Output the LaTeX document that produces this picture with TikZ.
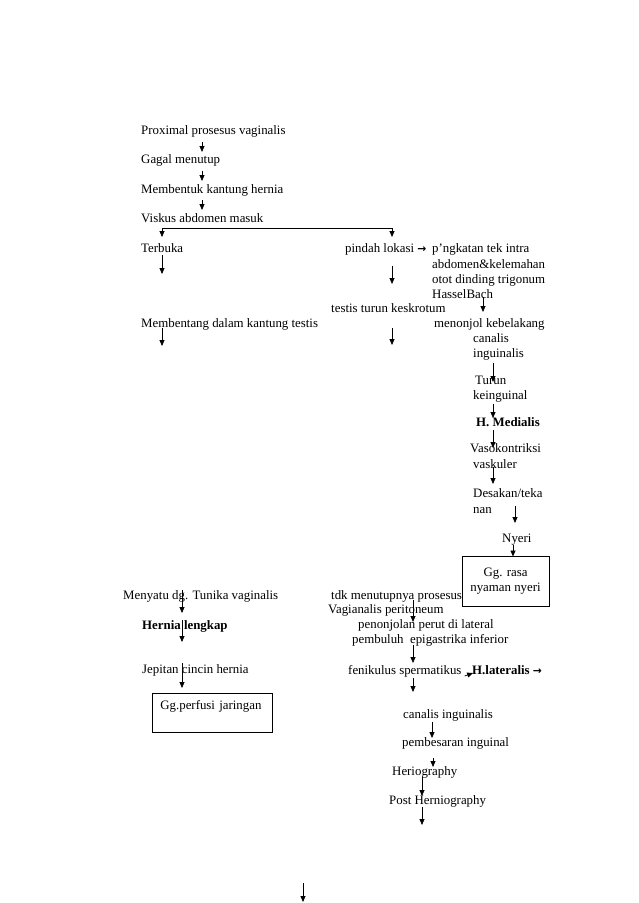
\documentclass[tikz,border=0pt]{standalone}
\usepackage{fontspec}
\setmainfont{Liberation Serif}
\newfontfamily\arrowfont{DejaVu Sans}
\usetikzlibrary{arrows.meta,calc}
\pgfdeclarelayer{bg}
\pgfsetlayers{bg,main}
\tikzset{
        txt/.style={anchor=base west, inner sep=0pt, font=\fontsize{12}{14}\selectfont},
        arr/.style={-{Triangle[length=5.5pt,width=4.6pt]}, line width=0.7pt},
        box/.style={draw, line width=0.7pt}
}
\newcommand{\ra}{{\arrowfont\bfseries\fontsize{10}{12}\selectfont →}}
\begin{document}
\begin{tikzpicture}[x=0.933pt, y=-0.933pt]
        \useasboundingbox (0,0) rectangle (638,903);
        \coordinate (cA) at (202,0);
        \coordinate (cL) at (162,0);
        \coordinate (cM) at (392,0);
        \coordinate (cH) at (483,0);
        \coordinate (cR) at (493,0);
        \coordinate (cD) at (515,0);
        \coordinate (cN) at (513,0);
        \coordinate (cB) at (182,0);
        \coordinate (cT) at (413,0);
        \coordinate (cC) at (432,0);
        \coordinate (cP) at (422,0);
        \coordinate (tail) at (303,883);
        \coordinate (tip) at (303,902);
        \node (prox) [txt] at (141, 134) {Proximal prosesus vaginalis};
        \node (gagal) [txt] at (141, 163) {Gagal menutup};
        \node (kantung) [txt] at (141, 193) {Membentuk kantung hernia};
        \node (viskus) [txt] at (141, 222) {Viskus abdomen masuk};
        \node (terbuka) [txt] at (141, 252) {Terbuka};
        \node (membentang) [txt] at (141, 327) {Membentang dalam kantung testis};
        \node (pindah) [txt] at (345, 252) {pindah lokasi \ra};
        \node (pk1) [txt] at (432, 252) {p’ngkatan tek intra};
        \node (pk2) [txt] at (432, 268) {abdomen\&kelemahan};
        \node (pk3) [txt] at (432, 283) {otot dinding trigonum};
        \node (pk4) [txt] at (432, 298) {HasselBach};
        \node (testis) [txt] at (331, 312) {testis turun keskrotum};
        \node (menonjol) [txt] at (434, 327) {menonjol kebelakang};
        \node (canalis) [txt] at (473, 342) {canalis};
        \node (inguinalis) [txt] at (473, 357) {inguinalis};
        \node (turun) [txt] at (475, 384) {Turun};
        \node (keinguinal) [txt] at (473, 399) {keinguinal};
        \node (medialis) [txt, font=\fontsize{12}{14}\selectfont\bfseries] at (476, 426) {H. Medialis};
        \node (vaso) [txt] at (470, 452) {Vasokontriksi};
        \node (vaskuler) [txt] at (473, 468) {vaskuler};
        \node (desakan) [txt] at (473, 497) {Desakan/teka};
        \node (nan) [txt] at (473, 513) {nan};
        \node (nyeri) [txt] at (502, 542) {Nyeri};
        \node (rasa) [box, align=center, inner sep=0pt, minimum width=81pt, minimum height=46pt, font=\fontsize{12}{14}\selectfont] at (505.5, 581.5) {Gg. rasa\\nyaman nyeri};
        \node (menyatu) [txt] at (123, 599) {Menyatu dg. Tunika vaginalis};
        \node (hlengkap) [txt, font=\fontsize{12}{14}\selectfont\bfseries] at (142, 629) {Hernia lengkap};
        \node (jepitan) [txt] at (142, 673) {Jepitan cincin hernia};
        \node (perfusi) [box, anchor=north west, align=left, text width=97pt, inner xsep=7.5pt, inner ysep=6.5pt, text height=8.4pt, text depth=15pt, font=\fontsize{12}{14}\selectfont] at (152, 693) {Gg.perfusi jaringan};
        \node (tdk) [txt] at (331, 599) {tdk menutupnya prosesus};
        \node (vagianalis) [txt] at (328, 613) {Vagianalis peritoneum};
        \node (penonjolan) [txt] at (358, 628) {penonjolan perut di lateral};
        \node (pembuluh) [txt] at (352, 643) {pembuluh\ \ epigastrika inferior};
        \node (fenikulus) [txt] at (348, 674) {fenikulus spermatikus};
        \node (lateralis) [txt, font=\fontsize{12}{14}\selectfont\bfseries] at (472, 674) {H.lateralis \ra};
        \node (canalising) [txt] at (403, 718) {canalis inguinalis};
        \node (pembesaran) [txt] at (402, 746) {pembesaran inguinal};
        \node (heriography) [txt] at (392, 775) {Heriography};
        \node (post) [txt] at (389, 804) {Post Herniography};
        \begin{pgfonlayer}{bg}
                \draw[arr] ($(prox.base-|cA)+(0,8)$) -- ($(gagal.base-|cA)+(0,-11)$);
                \draw[arr] ($(gagal.base-|cA)+(0,8)$) -- ($(kantung.base-|cA)+(0,-12)$);
                \draw[arr] ($(kantung.base-|cA)+(0,7)$) -- ($(viskus.base-|cA)+(0,-12)$);
                \draw[line width=0.7pt] ($(viskus.base-|cL)+(0,6)$) -- ($(viskus.base-|cM)+(0,6)$);
                \draw[arr] ($(viskus.base-|cL)+(0,6)$) -- ($(terbuka.base-|cL)+(0,-15)$);
                \draw[arr] ($(viskus.base-|cM)+(0,6)$) -- ($(pindah.base-|cM)+(0,-15)$);
                \draw[arr] ($(terbuka.base-|cL)+(0,3)$) -- ($(terbuka.base-|cL)+(0,22)$);
                \draw[arr] ($(pindah.base-|cM)+(0,14)$) -- ($(testis.base-|cM)+(0,-28)$);
                \draw[arr] ($(pk4.base-|cH)+(0,-1)$) -- ($(menonjol.base-|cH)+(0,-15)$);
                \draw[arr] ($(membentang.base-|cL)+(0,1)$) -- ($(membentang.base-|cL)+(0,19)$);
                \draw[arr] ($(testis.base-|cM)+(0,16)$) -- ($(testis.base-|cM)+(0,33)$);
                \draw[arr] ($(inguinalis.base-|cR)+(0,6)$) -- ($(turun.base-|cR)+(0,-2)$);
                \draw[arr] ($(keinguinal.base-|cR)+(0,5)$) -- ($(medialis.base-|cR)+(0,-8)$);
                \draw[arr] ($(medialis.base-|cR)+(0,4)$) -- ($(vaso.base-|cR)+(0,-4)$);
                \draw[arr] ($(vaskuler.base-|cR)+(0,-1)$) -- ($(desakan.base-|cR)+(0,-13)$);
                \draw[arr] ($(nan.base-|cD)+(0,-7)$) -- ($(nyeri.base-|cD)+(0,-19)$);
                \draw[arr] ($(nyeri.base-|cN)+(0,3)$) -- (rasa.north-|cN);
                \draw[arr] ($(menyatu.base-|cB)+(0,-9)$) -- ($(hlengkap.base-|cB)+(0,-16)$);
                \draw[arr] ($(hlengkap.base-|cB)+(0,-9)$) -- ($(jepitan.base-|cB)+(0,-31)$);
                \draw[arr] ($(jepitan.base-|cB)+(0,-10)$) -- ($(perfusi.north-|cB)+(0,-5)$);
                \draw[arr] ($(tdk.base-|cT)+(0,1)$) -- ($(penonjolan.base-|cT)+(0,-6)$);
                \draw[arr] ($(pembuluh.base-|cT)+(0,2)$) -- ($(fenikulus.base-|cT)+(0,-11)$);
                \draw[arr] ($(fenikulus.base-|cT)+(0,4)$) -- ($(fenikulus.base-|cT)+(0,18)$);
                \draw[arr] ($(fenikulus.base east)+(3,2)$) -- ($(lateralis.base west)+(1,-1)$);
                \draw[arr] ($(canalising.base-|cC)+(0,4)$) -- ($(pembesaran.base-|cC)+(0,-8)$);
                \draw[arr] ($(pembesaran.base-|cC)+(1,12)$) -- ($(heriography.base-|cC)+(1,-8)$);
                \draw[arr] ($(heriography.base-|cP)+(0,2)$) -- ($(post.base-|cP)+(0,-8)$);
                \draw[arr] ($(post.base-|cP)+(0,3)$) -- ($(post.base-|cP)+(0,21)$);
                \draw[arr] (tail) -- (tip);
        \end{pgfonlayer}
\end{tikzpicture}
\end{document}
